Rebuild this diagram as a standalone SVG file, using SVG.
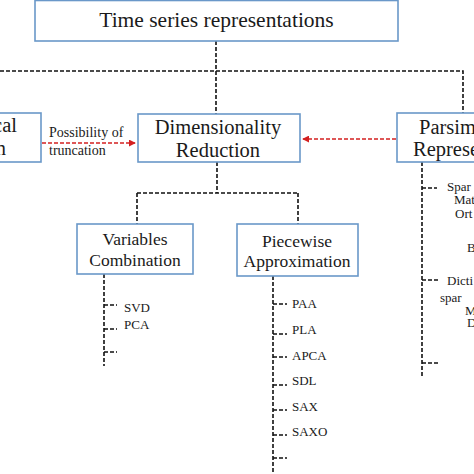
<svg xmlns="http://www.w3.org/2000/svg" width="474" height="474" viewBox="0 0 474 474">
<defs>
<style>
.box{fill:#fff;stroke:#6a98c9;stroke-width:1.6}
.t{font-family:"Liberation Serif","Times New Roman",serif;fill:#1a1a1a}
.big{font-size:20.5px}
.mid{font-size:17.5px}
.sm{font-size:13px}
.lbl{font-size:14px}
.dash{fill:none;stroke:#111;stroke-width:1.6;stroke-dasharray:4 2}
.red{fill:none;stroke:#d42020;stroke-width:1.4;stroke-dasharray:4 2}
</style>
<marker id="ah" viewBox="0 0 8 8" refX="7" refY="4" markerWidth="5" markerHeight="5" orient="auto">
<path d="M0,0 L8,4 L0,8 z" fill="#d42020"/>
</marker>
</defs>
<rect width="474" height="474" fill="#fff"/>
<g id="connectors">
<path class="dash" d="M216,41 V114 M0,71 H463 V113"/>
<path class="dash" d="M217,162 V193 M137,193 H298 M137,193 V224 M298,193 V224"/>
<path class="dash" d="M104,274 V366 M104,305 H117 M104,329 H117 M104,352 H117"/>
<path class="dash" d="M273,276 V474 M273,304 H287 M273,334 H287 M273,357 H287 M273,385 H287 M273,410 H287 M273,435 H287 M273,458 H287"/>
<path class="dash" d="M422,162 V378 M422,188 H437 M422,280 H440 M422,363 H440"/>
<path class="red" d="M42,143 H135" marker-end="url(#ah)"/>
<path class="red" d="M396,139 H303" marker-end="url(#ah)"/>
<text class="t lbl" x="49" y="137">Possibility of</text>
<text class="t lbl" x="49" y="155">truncation</text>
</g>
<g id="root">
<rect class="box" x="35" y="0.5" width="363" height="40.5"/>
<text class="t" font-size="21.5" x="216.5" y="27" text-anchor="middle">Time series representations</text>
</g>
<g id="left">
<rect class="box" x="-10" y="113" width="51" height="49"/>
<text class="t big" x="17" y="132" text-anchor="end">cal</text>
<text class="t big" x="6" y="155" text-anchor="end">n</text>
</g>
<g id="dimred">
<rect class="box" x="138" y="114" width="162" height="48"/>
<text class="t big" x="218" y="134" text-anchor="middle">Dimensionality</text>
<text class="t big" x="218" y="157" text-anchor="middle">Reduction</text>
</g>
<g id="parsim">
<rect class="box" x="397" y="113" width="100" height="49"/>
<text class="t big" x="419" y="134">Parsim</text>
<text class="t big" x="413" y="156">Represe</text>
</g>
<g id="varcomb">
<rect class="box" x="77" y="224" width="116" height="50"/>
<text class="t mid" x="135" y="245" text-anchor="middle">Variables</text>
<text class="t mid" x="135" y="266" text-anchor="middle">Combination</text>
</g>
<g id="piecewise">
<rect class="box" x="237" y="224" width="121" height="52"/>
<text class="t mid" x="297" y="247" text-anchor="middle">Piecewise</text>
<text class="t mid" x="297" y="267" text-anchor="middle">Approximation</text>
</g>
<g id="varlist">
<text class="t sm" x="124" y="312">SVD</text>
<text class="t sm" x="124" y="329">PCA</text>
</g>
<g id="pwlist">
<text class="t sm" x="292" y="308">PAA</text>
<text class="t sm" x="292" y="334">PLA</text>
<text class="t sm" x="292" y="360">APCA</text>
<text class="t sm" x="292" y="385">SDL</text>
<text class="t sm" x="292" y="411">SAX</text>
<text class="t sm" x="292" y="436">SAXO</text>
</g>
<g id="parsimlist">
<text class="t sm" x="447" y="191">Spar</text>
<text class="t sm" x="454" y="204">Mat</text>
<text class="t sm" x="455" y="218">Ort</text>
<text class="t sm" x="467" y="252">B</text>
<text class="t sm" x="447" y="285">Dicti</text>
<text class="t sm" x="440" y="302">spar</text>
<text class="t sm" x="465" y="315">M</text>
<text class="t sm" x="467" y="327">D</text>
</g>
</svg>
